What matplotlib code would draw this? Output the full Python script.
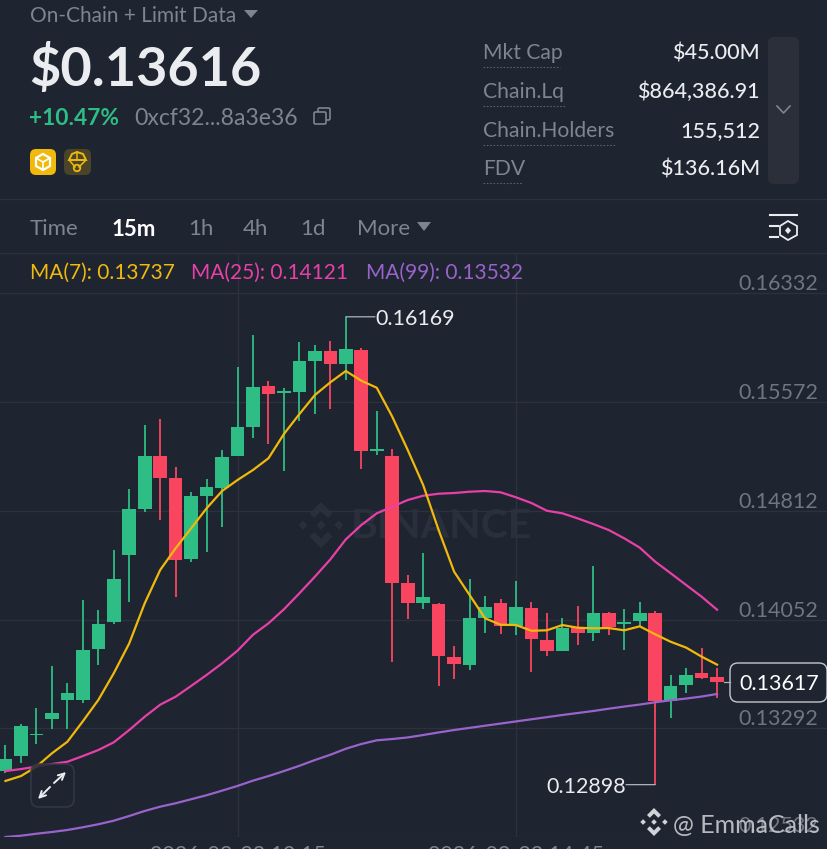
import numpy as np
import matplotlib
matplotlib.use("Agg")
import matplotlib.pyplot as plt
from matplotlib.patches import FancyBboxPatch, Polygon

# candles (oldest first)
opens = [0.12996, 0.13098, 0.13242, 0.13359, 0.13490, 0.13490, 0.13849, 0.14033, 0.14506, 0.14823,
         0.15194, 0.15044, 0.14478, 0.14916, 0.14974, 0.15198, 0.15401, 0.15683, 0.15636, 0.15641,
         0.15858, 0.15928, 0.15837, 0.15939, 0.15234, 0.15194, 0.14310, 0.14166, 0.14161, 0.13793,
         0.13737, 0.14063, 0.14166, 0.14007, 0.14135, 0.13907, 0.13832, 0.14002, 0.13958, 0.14096,
         0.14021, 0.14044, 0.14096, 0.13481, 0.13593, 0.13677, 0.13649]
closes = [0.13077, 0.13308, 0.13249, 0.13397, 0.13541, 0.13837, 0.14023, 0.14336, 0.14823, 0.15194,
          0.15042, 0.14469, 0.14916, 0.14977, 0.15189, 0.15399, 0.15680, 0.15629, 0.15643, 0.15858,
          0.15930, 0.15837, 0.15942, 0.15231, 0.15248, 0.14310, 0.14166, 0.14212, 0.13797, 0.13739,
          0.14063, 0.14138, 0.14007, 0.14140, 0.13914, 0.13832, 0.13995, 0.13958, 0.14100, 0.14002,
          0.14035, 0.14100, 0.13481, 0.13590, 0.13665, 0.13646, 0.13617]
highs = [0.13175, 0.13322, 0.13434, 0.13728, 0.13609, 0.14189, 0.14119, 0.14539, 0.14963, 0.15413,
         0.15457, 0.15117, 0.14944, 0.15035, 0.15236, 0.15820, 0.16040, 0.15718, 0.15673, 0.15993,
         0.15974, 0.15998, 0.16169, 0.15949, 0.15513, 0.15245, 0.14366, 0.14516, 0.14170, 0.13867,
         0.14334, 0.14217, 0.14198, 0.14324, 0.14175, 0.14096, 0.14061, 0.14147, 0.14427, 0.14105,
         0.14124, 0.14177, 0.14110, 0.13665, 0.13711, 0.13853, 0.13713]
lows = [0.12979, 0.13051, 0.13182, 0.13289, 0.13289, 0.13471, 0.13737, 0.14021, 0.14173, 0.14802,
        0.14748, 0.14212, 0.14457, 0.14527, 0.14697, 0.15194, 0.15322, 0.15280, 0.15089, 0.15443,
        0.15487, 0.15526, 0.15725, 0.15105, 0.15203, 0.13753, 0.14058, 0.14124, 0.13590, 0.13637,
        0.13702, 0.13960, 0.13953, 0.13944, 0.13684, 0.13797, 0.13830, 0.13876, 0.13904, 0.13946,
        0.13841, 0.14009, 0.12898, 0.13366, 0.13537, 0.13639, 0.13506]

ma7 = [0.12924, 0.12958, 0.13024, 0.13117, 0.13198, 0.13341, 0.13490, 0.13677, 0.13886, 0.14166,
       0.14399, 0.14551, 0.14690, 0.14830, 0.14951, 0.15028, 0.15098, 0.15180, 0.15350, 0.15489,
       0.15622, 0.15711, 0.15790, 0.15722, 0.15673, 0.15471, 0.15238, 0.14993, 0.14678, 0.14387,
       0.14224, 0.14061, 0.14016, 0.14014, 0.13974, 0.13977, 0.14014, 0.13995, 0.13991, 0.13993,
       0.13977, 0.14005, 0.13949, 0.13897, 0.13856, 0.13793, 0.13737]
ma25 = [0.12993, 0.13007, 0.13024, 0.13042, 0.13058, 0.13098, 0.13140, 0.13194, 0.13280, 0.13373,
        0.13457, 0.13513, 0.13588, 0.13665, 0.13746, 0.13835, 0.13946, 0.14026, 0.14124, 0.14236,
        0.14352, 0.14473, 0.14613, 0.14713, 0.14795, 0.14841, 0.14888, 0.14918, 0.14932, 0.14937,
        0.14946, 0.14951, 0.14942, 0.14907, 0.14867, 0.14813, 0.14795, 0.14759, 0.14720, 0.14678,
        0.14620, 0.14555, 0.14457, 0.14376, 0.14294, 0.14212, 0.14121]
ma99 = [0.12532, 0.12541, 0.12555, 0.12567, 0.12581, 0.12600, 0.12621, 0.12646, 0.12679, 0.12714,
        0.12744, 0.12768, 0.12796, 0.12824, 0.12856, 0.12889, 0.12926, 0.12958, 0.12993, 0.13030,
        0.13070, 0.13107, 0.13149, 0.13182, 0.13208, 0.13217, 0.13228, 0.13245, 0.13263, 0.13280,
        0.13295, 0.13310, 0.13325, 0.13340, 0.13355, 0.13370, 0.13385, 0.13399, 0.13413, 0.13429,
        0.13444, 0.13458, 0.13474, 0.13488, 0.13500, 0.13514, 0.13532]

price_ticks = [0.16332, 0.15572, 0.14812, 0.14052, 0.13292, 0.12532]
time_idx = [15, 33]
time_labels = ["2026-03-22 10:15", "2026-03-22 14:45"]

stat_names = ["Mkt Cap", "Chain.Lq", "Chain.Holders", "FDV"]
stat_values = ["$45.00M", "$864,386.91", "155,512", "$136.16M"]
tabs = ["Time", "15m", "1h", "4h", "1d", "More"]

BG = "#1E2430"
GRID = "#2C313C"
GREEN = "#2EBD85"
RED = "#FA4560"
GOLD = "#F0B90B"
PINK = "#E840A8"
PURPLE = "#9A63CC"
MUTED = "#7E8590"
LIGHT = "#EAECEF"

plt.rcParams["font.family"] = ["Lato", "DejaVu Sans"]

fig = plt.figure(figsize=(8.28, 8.49), dpi=100, facecolor=BG)


def px_axes(zorder):
    # overlay measured in screen pixels, y going down
    a = fig.add_axes([0, 0, 1, 1], zorder=zorder)
    a.set_xlim(0, 828)
    a.set_ylim(849, 0)
    a.axis("off")
    a.patch.set_alpha(0)
    return a


def binance_logo(a, cx, cy, r, color):
    # small diamonds plus the two chevrons, close enough to the mark
    d = r * 0.2
    for dx, dy in [(0, 0), (-r * 0.78, 0), (r * 0.78, 0)]:
        a.add_patch(Polygon([(cx + dx - d, cy + dy), (cx + dx, cy + dy - d), (cx + dx + d, cy + dy),
                             (cx + dx, cy + dy + d)], color=color, lw=0))
    for s in (-1, 1):
        a.add_patch(Polygon([(cx, cy + s * r), (cx + r * 0.5, cy + s * r * 0.5), (cx + r * 0.3, cy + s * r * 0.3),
                             (cx, cy + s * r * 0.6), (cx - r * 0.3, cy + s * r * 0.3),
                             (cx - r * 0.5, cy + s * r * 0.5)], color=color, lw=0))


# faint watermark sits under the candles
back = px_axes(0)
binance_logo(back, 321, 525, 23, "#2A303B")
back.text(351, 526, "BINANCE", fontsize=29.5, fontweight="bold", color="#2A303B", va="center", ha="left")

# chart
ax = fig.add_axes([0, 12 / 849, 1, 584 / 849], zorder=1)
ax.patch.set_alpha(0)
ax.set_xlim(-0.3555, 53.17)
ax.set_ylim(0.12532, 0.16615)
for s in ax.spines.values():
    s.set_visible(False)
ax.tick_params(left=False, bottom=False, labelleft=False, labelbottom=False)
ax.set_yticks(price_ticks)
ax.set_xticks(time_idx)
ax.grid(True, color=GRID, lw=1.0)
ax.set_axisbelow(True)

x = np.arange(len(opens))
o = np.array(opens)
c = np.array(closes)
colors = [GREEN if cc >= oo else RED for oo, cc in zip(o, c)]
ax.vlines(x, lows, highs, colors=colors, lw=1.3, zorder=2)
ax.bar(x, np.maximum(np.abs(c - o), 0.00012), bottom=np.minimum(o, c), width=0.88, color=colors, lw=0, zorder=3)

ax.plot(x, ma99, color=PURPLE, lw=1.6, zorder=4)
ax.plot(x, ma25, color=PINK, lw=1.6, zorder=4)
ax.plot(x, ma7, color=GOLD, lw=1.6, zorder=4)

tick_tf = ax.get_yaxis_transform()
for p in price_ticks[:-1]:
    ax.annotate("%.5f" % p, xy=(1, p), xycoords=tick_tf, xytext=(-7, 6.5), textcoords="offset points",
                ha="right", va="center", fontsize=15.5, color="#6F7682", zorder=5)

# high / low callouts
hi = int(np.argmax(highs))
lo = int(np.argmin(lows))
ax.annotate("%.5f" % highs[hi], xy=(hi, highs[hi]), xytext=(21, -1.5), textcoords="offset points",
            ha="left", va="center", fontsize=15.5, color=LIGHT, zorder=6)
ax.annotate("%.5f" % lows[lo], xy=(lo, lows[lo]), xytext=(-21, -1.5), textcoords="offset points",
            ha="right", va="center", fontsize=15.5, color=LIGHT, zorder=6)
ax.annotate("", xy=(hi, highs[hi]), xytext=(21, 0), textcoords="offset points",
            arrowprops=dict(arrowstyle="-", color="#AEB4BC", lw=0.9, shrinkA=0, shrinkB=0), zorder=6)
ax.annotate("", xy=(lo, lows[lo]), xytext=(-21, 0), textcoords="offset points",
            arrowprops=dict(arrowstyle="-", color="#AEB4BC", lw=0.9, shrinkA=0, shrinkB=0), zorder=6)

ui = px_axes(2)
ui.plot([0, 828], [199, 199], color=GRID, lw=1.0)
ui.plot([0, 828], [253, 253], color=GRID, lw=1.0)

ui.text(30, 16, "On-Chain + Limit Data", fontsize=15, color=MUTED, va="center")
ui.add_patch(Polygon([(244, 10), (258, 10), (251, 18)], color=MUTED, lw=0))
ui.text(29, 69, "$0.13616", fontsize=39, fontweight="bold", color=LIGHT, va="center")
ui.text(29, 118, "+10.47%", fontsize=16.4, fontweight="bold", color=GREEN, va="center")
ui.text(134, 118, "0xcf32...8a3e36", fontsize=16.6, color=MUTED, va="center")

# copy icon
ui.add_patch(FancyBboxPatch((318, 108), 12, 12, boxstyle="round,pad=0,rounding_size=1.5", fc="none", ec=MUTED, lw=1.2))
ui.add_patch(FancyBboxPatch((314, 112), 12, 12, boxstyle="round,pad=0,rounding_size=1.5", fc=BG, ec=MUTED, lw=1.2))

# chain badges
ui.add_patch(FancyBboxPatch((30, 149), 26, 26, boxstyle="round,pad=0,rounding_size=6", fc=GOLD, ec="none"))
ui.add_patch(Polygon([(43, 154), (50, 158), (50, 166), (43, 170), (36, 166), (36, 158)], fc="none", ec="white", lw=1.6))
ui.plot([36, 43, 50], [158, 162, 158], color="white", lw=1.2)
ui.plot([43, 43], [162, 170], color="white", lw=1.2)
ui.add_patch(FancyBboxPatch((64, 149), 27, 26, boxstyle="round,pad=0,rounding_size=6", fc="#4A4528", ec="none"))
ui.add_patch(Polygon([(69, 160), (72, 154), (77, 152), (83, 154), (86, 160)], fc="none", ec=GOLD, lw=1.4))
ui.plot([77, 77], [152, 160], color=GOLD, lw=1.1)
ui.plot([70, 75], [161, 167], color=GOLD, lw=1.1)
ui.plot([85, 79], [161, 167], color=GOLD, lw=1.1)
ui.scatter([77], [168], s=22, fc="none", ec=GOLD, lw=1.3)

# stats block
row_y = [51, 90, 129, 167]
dash_end = [560, 566, 616, 523]
for name, val, yy, xe in zip(stat_names, stat_values, row_y, dash_end):
    ui.text(483, yy + 2, name, fontsize=15.2, color=MUTED, va="center")
    ui.text(760, yy + 2, val, fontsize=15.5, fontweight="medium", color=LIGHT, va="center", ha="right")
    ui.plot([483, xe], [yy + 16, yy + 16], color="#5A606B", lw=0.8, ls=(0, (1.5, 1.5)))
ui.add_patch(FancyBboxPatch((768, 37), 31, 147, boxstyle="round,pad=0,rounding_size=6", fc="#2A2F3A", ec="none"))
ui.plot([777, 783.5, 790], [106, 113, 106], color=MUTED, lw=1.2)

# interval tabs
tab_x = [30, 112, 188, 243, 300, 357]
for name, tx in zip(tabs, tab_x):
    active = name == "15m"
    ui.text(tx, 229, name, fontsize=16, color="white" if active else MUTED,
            fontweight="bold" if active else "normal", va="center")
ui.add_patch(Polygon([(417, 222), (431, 222), (424, 231)], color=MUTED, lw=0))

# settings icon
ui.plot([770, 797], [215, 215], color=LIGHT, lw=1.5)
ui.plot([770, 778], [226, 226], color=LIGHT, lw=1.5)
ui.plot([770, 778], [237, 237], color=LIGHT, lw=1.5)
ui.add_patch(Polygon([(788, 221), (797, 226), (797, 235), (788, 240), (780, 235), (780, 226)], fc="none", ec=LIGHT, lw=1.3))
ui.add_patch(Polygon([(788, 227), (791, 230.5), (788, 234), (785, 230.5)], color=LIGHT, lw=0))

# moving average readout
ma_items = [("MA(7): %.5f" % ma7[-1], GOLD, 30), ("MA(25): %.5f" % ma25[-1], PINK, 191), ("MA(99): %.5f" % 0.13532, PURPLE, 366)]
for label, col, tx in ma_items:
    ui.text(tx, 273, label, fontsize=15, color=col, va="center")

# price tag box
ui.plot([724, 730], [682, 682], color="#AEB4BC", lw=0.9)
ui.add_patch(FancyBboxPatch((730, 663), 97, 39, boxstyle="round,pad=0,rounding_size=8", fc=BG, ec="#C4C8CE", lw=1.0))
ui.text(779, 684, "%.5f" % closes[-1], fontsize=15.5, color="white", va="center", ha="center")

# expand button
ui.add_patch(FancyBboxPatch((31, 764), 43, 43, boxstyle="round,pad=0,rounding_size=8", fc=BG, ec="#363B45", lw=1.2, alpha=0.85))
ui.annotate("", xy=(66, 772), xytext=(54, 783), arrowprops=dict(arrowstyle="->", color=LIGHT, lw=1.4, mutation_scale=11, shrinkA=0, shrinkB=0))
ui.annotate("", xy=(38, 799), xytext=(50, 787), arrowprops=dict(arrowstyle="->", color=LIGHT, lw=1.4, mutation_scale=11, shrinkA=0, shrinkB=0))

# cut-off time axis labels
for idx, lab in zip(time_idx, time_labels):
    px = 5.5 + idx * 15.47
    ui.text(px, 845, lab, fontsize=15.5, color=MUTED, ha="center", va="top")

# repost watermark over the last price tick
ui.text(818, 826, "%.5f" % price_ticks[-1], fontsize=15.5, color="#6F7682", ha="right", va="center")
binance_logo(ui, 654, 822, 14, "#D0D3D8")
ui.text(673, 825, "@ EmmaCalls", fontsize=18, color="#C8CBD0", va="center", alpha=0.9)

fig.savefig("out.png", dpi=100, facecolor=BG)
